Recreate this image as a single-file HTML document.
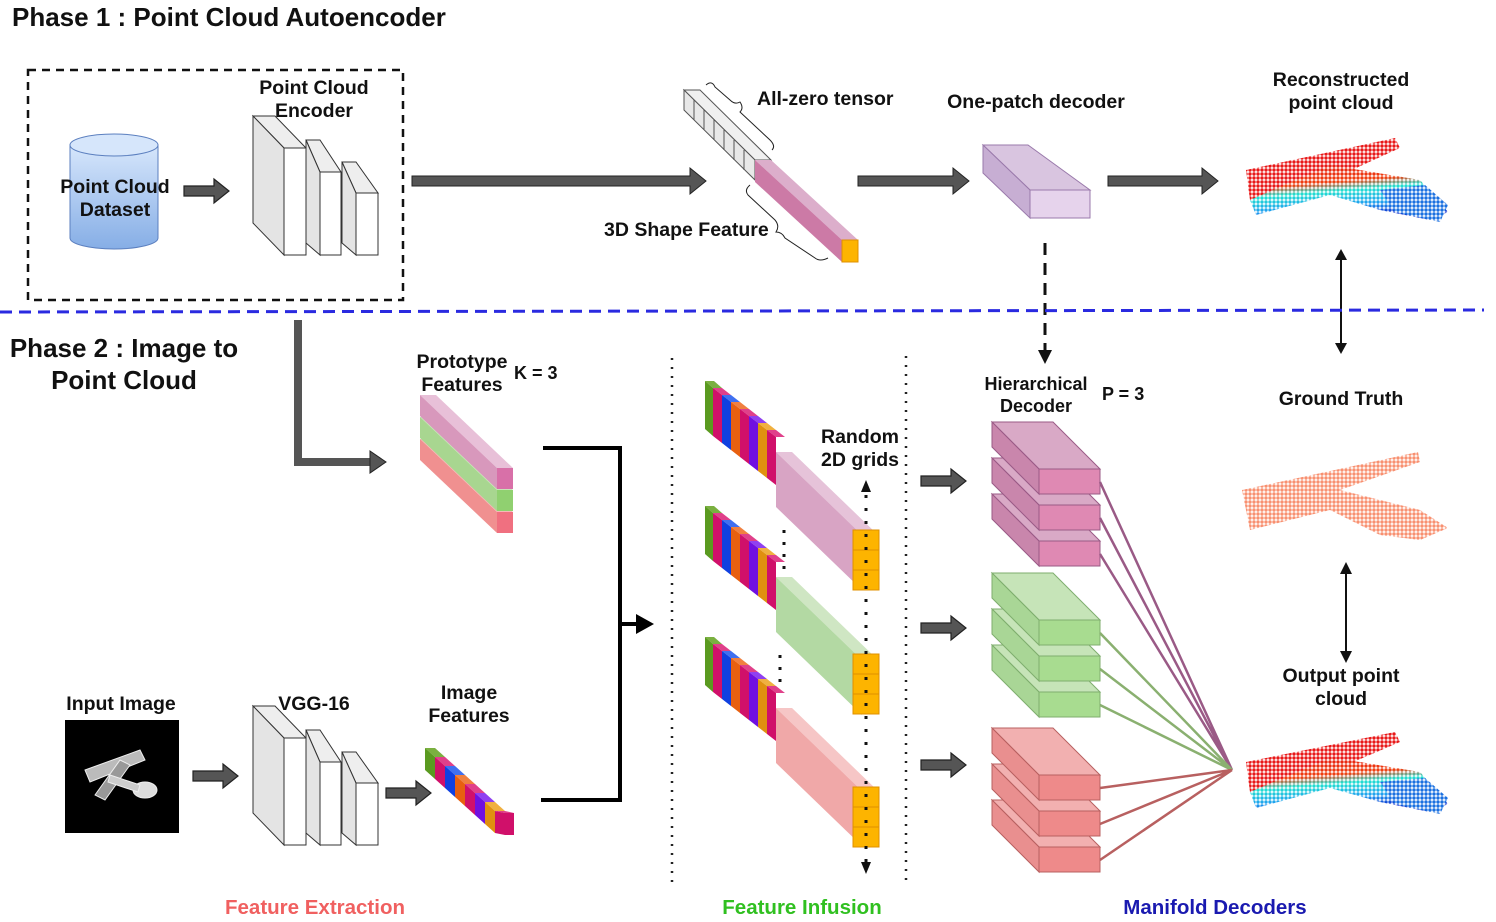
<!DOCTYPE html>
<html><head><meta charset="utf-8"><style>
html,body{margin:0;padding:0;background:#fff}
svg{display:block}
text{font-family:"Liberation Sans",Arial,sans-serif;font-weight:bold;fill:#111}
</style></head><body>
<svg width="1496" height="922" viewBox="0 0 1496 922" xmlns="http://www.w3.org/2000/svg">
<defs>
<linearGradient id="cyl" x1="0" y1="0" x2="0" y2="1"><stop offset="0" stop-color="#d6e6fb"/><stop offset="1" stop-color="#86aee6"/></linearGradient>
<linearGradient id="jet" x1="0" y1="0" x2="0.3" y2="1"><stop offset="0" stop-color="#e01010"/><stop offset="0.4" stop-color="#f04010"/><stop offset="0.55" stop-color="#20e0d0"/><stop offset="0.8" stop-color="#20a0f0"/><stop offset="1" stop-color="#1030d0"/></linearGradient>
<pattern id="dots" width="4" height="4" patternUnits="userSpaceOnUse"><circle cx="2" cy="2" r="1.7" fill="#fff"/></pattern>
<mask id="dm"><rect width="1496" height="922" fill="url(#dots)"/></mask>
<g id="arr"><polygon points="0,-5 30,-5 30,-12 45,0 30,12 30,5 0,5" fill="#555" stroke="#222" stroke-width="1.2"/></g>
<g id="pbox">
<polygon points="0,0 61,0 108,47 47,47" fill="#d9a9c6" stroke="#9a5a86"/>
<polygon points="0,0 47,47 47,72 0,25" fill="#c986ac" stroke="#9a5a86"/>
<rect x="47" y="47" width="61" height="25" fill="#df89b3" stroke="#9a5a86"/>
</g>
<g id="gbox">
<polygon points="0,0 61,0 108,47 47,47" fill="#c6e4b8" stroke="#7fae6e"/>
<polygon points="0,0 47,47 47,72 0,25" fill="#a9d696" stroke="#7fae6e"/>
<rect x="47" y="47" width="61" height="25" fill="#a8dc90" stroke="#7fae6e"/>
</g>
<g id="rbox">
<polygon points="0,0 61,0 108,47 47,47" fill="#f2b0b0" stroke="#b86060"/>
<polygon points="0,0 47,47 47,72 0,25" fill="#e98f8f" stroke="#b86060"/>
<rect x="47" y="47" width="61" height="25" fill="#ee8a8a" stroke="#b86060"/>
</g>
<g id="cnn">
<polygon points="253,116 275,116 306,148 284,148" fill="#eee" stroke="#333"/>
<polygon points="253,116 284,148 284,255 253,223" fill="#e4e4e4" stroke="#333"/>
<rect x="284" y="148" width="22" height="107" fill="#fff" stroke="#333"/>
<polygon points="306,140 320,140 341,172 320,172" fill="#eee" stroke="#333"/>
<polygon points="306,140 320,172 320,255 306,243" fill="#e4e4e4" stroke="#333"/>
<rect x="320" y="172" width="21" height="83" fill="#fff" stroke="#333"/>
<polygon points="342,162 356,162 378,193 356,193" fill="#eee" stroke="#333"/>
<polygon points="342,162 356,193 356,255 342,243" fill="#e4e4e4" stroke="#333"/>
<rect x="356" y="193" width="22" height="62" fill="#fff" stroke="#333"/>
</g>
<g id="cubes">
<polygon points="0,0 9,0 17,7 8,7" fill="#7ab040"/><polygon points="0,0 8,7 8,55 0,48" fill="#5a9a20"/>
<polygon points="8,7 17,7 26,14 17,14" fill="#e0408a"/><polygon points="8,7 17,14 17,62 8,55" fill="#d0106a"/>
<polygon points="17,14 26,14 35,21 26,21" fill="#4070f0"/><polygon points="17,14 26,21 26,69 17,62" fill="#1040e0"/>
<polygon points="26,21 35,21 44,28 35,28" fill="#f08040"/><polygon points="26,21 35,28 35,76 26,69" fill="#e86010"/>
<polygon points="35,28 44,28 53,35 44,35" fill="#e0408a"/><polygon points="35,28 44,35 44,83 35,76" fill="#d0106a"/>
<polygon points="44,35 53,35 62,42 53,42" fill="#9040f0"/><polygon points="44,35 53,42 53,90 44,83" fill="#7010e0"/>
<polygon points="53,42 62,42 71,49 62,49" fill="#f0b040"/><polygon points="53,42 62,49 62,97 53,90" fill="#e09010"/>
<polygon points="62,49 71,49 80,56 71,56" fill="#e0408a"/><polygon points="62,49 71,56 71,104 62,97" fill="#d0106a"/>
</g>
<g id="ostack">
<rect x="0" y="0" width="26" height="20" fill="#fdb400" stroke="#e09000"/>
<rect x="0" y="20" width="26" height="20" fill="#fdb400" stroke="#e09000"/>
<rect x="0" y="40" width="26" height="20" fill="#fdb400" stroke="#e09000"/>
</g>
</defs>

<text x="12" y="26" font-size="26">Phase 1 : Point Cloud Autoencoder</text>
<rect x="28" y="70" width="375" height="230" fill="none" stroke="#111" stroke-width="2.5" stroke-dasharray="8,6"/>
<path d="M70,145 L70,238 A44,11 0 0 0 158,238 L158,145" fill="url(#cyl)" stroke="#5b7fbf"/>
<ellipse cx="114" cy="145" rx="44" ry="11" fill="#d6e6fb" stroke="#5b7fbf"/>
<text x="115" y="193" font-size="19.5" text-anchor="middle">Point Cloud</text>
<text x="115" y="216" font-size="19.5" text-anchor="middle">Dataset</text>
<use href="#arr" x="184" y="191"/>
<text x="314" y="94" font-size="19.5" text-anchor="middle">Point Cloud</text>
<text x="314" y="117" font-size="19.5" text-anchor="middle">Encoder</text>
<use href="#cnn"/>
<polygon points="412,176 690,176 690,168 706,181 690,194 690,186 412,186" fill="#555" stroke="#222"/>

<g stroke="#555" fill="#fff">
<polygon points="684,90 700,90 771,160 755,160" fill="#f0f0f0"/>
<polygon points="684,90 755,160 755,180 684,110" fill="#e8e8e8"/>
<line x1="694" y1="100" x2="694" y2="120"/><line x1="704" y1="110" x2="704" y2="130"/><line x1="714" y1="120" x2="714" y2="140"/><line x1="724" y1="130" x2="724" y2="150"/><line x1="734" y1="140" x2="734" y2="160"/><line x1="744" y1="150" x2="744" y2="170"/>
</g>
<polygon points="755,160 771,160 858,240 842,240" fill="#dcaecb"/>
<polygon points="755,160 842,240 842,262 755,182" fill="#cc7aa6"/>
<rect x="842" y="240" width="16" height="22" fill="#fdb400" stroke="#e09000"/>
<path d="M706,85 Q712,80 715,87 L730,100 Q735,105 740,102 Q744,108 740,112 L770,140 Q776,146 772,150" fill="none" stroke="#222"/>
<path d="M750,185 Q744,190 748,195 L775,220 Q780,226 776,232 Q782,232 785,238 L815,258 Q820,262 828,258" fill="none" stroke="#222"/>
<text x="757" y="105" font-size="19.5">All-zero tensor</text>
<text x="604" y="236" font-size="19.5">3D Shape Feature</text>
<polygon points="858,176 953,176 953,168 969,181 953,194 953,186 858,186" fill="#555" stroke="#222"/>
<text x="1036" y="108" font-size="19.5" text-anchor="middle">One-patch decoder</text>
<polygon points="983,145 1028,145 1090,190 1030,190" fill="#d9c5e0" stroke="#9a7aab"/>
<polygon points="983,145 1030,190 1030,218 983,173" fill="#c7aed3" stroke="#9a7aab"/>
<rect x="1030" y="190" width="60" height="28" fill="#e6d3ec" stroke="#9a7aab"/>
<polygon points="1108,176 1202,176 1202,168 1218,181 1202,194 1202,186 1108,186" fill="#555" stroke="#222"/>
<text x="1341" y="86" font-size="19.5" text-anchor="middle">Reconstructed</text>
<text x="1341" y="109" font-size="19.5" text-anchor="middle">point cloud</text>
<g mask="url(#dm)">
<polygon points="1246,170 1395,138 1400,148 1330,180 1250,200" fill="#e81818"/>
<polygon points="1250,200 1330,165 1360,170 1420,180 1448,212 1430,220 1380,210 1330,195 1256,215" fill="url(#jet)"/>
<polygon points="1380,190 1425,185 1448,205 1440,222 1395,212" fill="#1a70e0"/>
</g>
<line x1="1045" y1="243" x2="1045" y2="350" stroke="#111" stroke-width="3" stroke-dasharray="12,8"/>
<polygon points="1038,350 1052,350 1045,364" fill="#111"/>
<line x1="1341" y1="255" x2="1341" y2="348" stroke="#111" stroke-width="2"/>
<polygon points="1335,260 1347,260 1341,249" fill="#111"/><polygon points="1335,343 1347,343 1341,354" fill="#111"/>

<line x1="0" y1="312" x2="1484" y2="310" stroke="#2a2ae0" stroke-width="3" stroke-dasharray="12,7"/>

<text x="124" y="357" font-size="26" text-anchor="middle">Phase 2 : Image to</text>
<text x="124" y="389" font-size="26" text-anchor="middle">Point Cloud</text>
<polyline points="298,320 298,462 372,462" fill="none" stroke="#555" stroke-width="8"/>
<polygon points="370,451 386,462 370,473" fill="#555" stroke="#222"/>

<text x="462" y="368" font-size="19.5" text-anchor="middle">Prototype</text>
<text x="462" y="391" font-size="19.5" text-anchor="middle">Features</text>
<text x="514" y="379" font-size="18">K = 3</text>
<g>
<polygon points="420,439 436,439 513,512 497,512" fill="#f6b8b8"/><polygon points="420,439 497,512 497,533 420,460" fill="#f09090"/><rect x="497" y="512" width="16" height="21" fill="#f07080"/>
<polygon points="420,417 436,417 513,490 497,490" fill="#c8e4b8"/><polygon points="420,417 497,490 497,511 420,438" fill="#a8d690"/><rect x="497" y="490" width="16" height="21" fill="#90d070"/>
<polygon points="420,395 436,395 513,468 497,468" fill="#e8c0d8"/><polygon points="420,395 497,468 497,489 420,416" fill="#d898bc"/><rect x="497" y="468" width="16" height="21" fill="#d870a8"/>
</g>

<text x="121" y="710" font-size="19.5" text-anchor="middle">Input Image</text>
<rect x="65" y="720" width="114" height="113" fill="#000"/>
<g fill="#bbb" stroke="#eee" stroke-width="1">
<polygon points="85,770 140,750 145,760 90,782"/>
<polygon points="95,795 120,760 130,765 105,800" fill="#999"/>
<ellipse cx="145" cy="790" rx="12" ry="8" fill="#ddd"/>
<polygon points="110,775 140,785 138,792 108,782" fill="#ccc"/>
</g>
<use href="#arr" x="193" y="776"/>
<text x="314" y="710" font-size="19.5" text-anchor="middle">VGG-16</text>
<use href="#cnn" y="590"/>
<use href="#arr" x="386" y="793"/>
<text x="469" y="699" font-size="19.5" text-anchor="middle">Image</text>
<text x="469" y="722" font-size="19.5" text-anchor="middle">Features</text>
<g>
<polygon points="425,748 435,748 445,757 435,757" fill="#7ab040"/><polygon points="425,748 435,757 435,779 425,770" fill="#5a9a20"/>
<polygon points="435,757 445,757 455,766 445,766" fill="#e0408a"/><polygon points="435,757 445,766 445,788 435,779" fill="#d0106a"/>
<polygon points="445,766 455,766 465,775 455,775" fill="#4070f0"/><polygon points="445,766 455,775 455,797 445,788" fill="#1040e0"/>
<polygon points="455,775 465,775 475,784 465,784" fill="#f08040"/><polygon points="455,775 465,784 465,806 455,797" fill="#e86010"/>
<polygon points="465,784 475,784 485,793 475,793" fill="#e0408a"/><polygon points="465,784 475,793 475,815 465,806" fill="#d0106a"/>
<polygon points="475,793 485,793 495,802 485,802" fill="#9040f0"/><polygon points="475,793 485,802 485,824 475,815" fill="#7010e0"/>
<polygon points="485,802 495,802 505,811 495,811" fill="#f0b040"/><polygon points="485,802 495,811 495,833 485,824" fill="#e09010"/>
<polygon points="495,811 505,811 514,813 505,813" fill="#e0408a"/><polygon points="495,811 505,813 505,835 495,833" fill="#d0106a"/>
<rect x="505" y="813" width="9" height="22" fill="#d0106a"/>
</g>

<polyline points="543,448 620,448 620,800 541,800" fill="none" stroke="#000" stroke-width="4"/>
<line x1="620" y1="624" x2="640" y2="624" stroke="#000" stroke-width="4"/>
<polygon points="636,614 654,624 636,634" fill="#000"/>

<line x1="672" y1="358" x2="672" y2="885" stroke="#222" stroke-width="2.5" stroke-dasharray="2,7"/>
<line x1="906" y1="356" x2="906" y2="885" stroke="#222" stroke-width="2.5" stroke-dasharray="2,7"/>

<g>
<polygon points="776,452 792,452 878,535 862,535" fill="#e6c3d9"/><polygon points="776,452 862,535 862,590 776,507" fill="#d8a4c4"/>
<use href="#cubes" x="705" y="381"/><use href="#ostack" x="853" y="530"/>
<polygon points="776,577 792,577 878,660 862,660" fill="#cfe6c3"/><polygon points="776,577 862,660 862,715 776,632" fill="#b3d9a3"/>
<use href="#cubes" x="705" y="506"/><use href="#ostack" x="853" y="654"/>
<polygon points="776,708 792,708 878,791 862,791" fill="#f6c6c6"/><polygon points="776,708 862,791 862,846 776,763" fill="#f0a8a8"/>
<use href="#cubes" x="705" y="637"/><use href="#ostack" x="853" y="787"/>
</g>
<line x1="866" y1="495" x2="866" y2="862" stroke="#111" stroke-width="3" stroke-dasharray="3,10"/>
<polygon points="861,492 871,492 866,480" fill="#111"/><polygon points="861,862 871,862 866,874" fill="#111"/>
<line x1="784" y1="530" x2="784" y2="570" stroke="#111" stroke-width="3" stroke-dasharray="3,9"/>
<line x1="780" y1="655" x2="780" y2="690" stroke="#111" stroke-width="3" stroke-dasharray="3,9"/>
<text x="860" y="443" font-size="19.5" text-anchor="middle">Random</text>
<text x="860" y="466" font-size="19.5" text-anchor="middle">2D grids</text>

<use href="#arr" x="921" y="481"/><use href="#arr" x="921" y="628"/><use href="#arr" x="921" y="765"/>

<text x="1036" y="390" font-size="18" text-anchor="middle">Hierarchical</text>
<text x="1036" y="412" font-size="18" text-anchor="middle">Decoder</text>
<text x="1102" y="400" font-size="18">P = 3</text>
<use href="#pbox" x="992" y="494"/><use href="#pbox" x="992" y="458"/><use href="#pbox" x="992" y="422"/>
<use href="#gbox" x="992" y="645"/><use href="#gbox" x="992" y="609"/><use href="#gbox" x="992" y="573"/>
<use href="#rbox" x="992" y="800"/><use href="#rbox" x="992" y="764"/><use href="#rbox" x="992" y="728"/>
<g stroke-width="2.5" fill="none">
<path d="M1100,482 L1232,770 M1100,518 L1232,770 M1100,554 L1232,770" stroke="#9a5a86"/>
<path d="M1100,633 L1232,770 M1100,669 L1232,770 M1100,705 L1232,770" stroke="#8ab070"/>
<path d="M1100,788 L1232,770 M1100,824 L1232,770 M1100,860 L1232,770" stroke="#b86060"/>
</g>

<text x="1341" y="405" font-size="19.5" text-anchor="middle">Ground Truth</text>
<g mask="url(#dm)">
<polygon points="1242,490 1418,452 1420,462 1340,490 1420,510 1448,528 1420,540 1380,535 1330,510 1250,530" fill="#f89070"/>
</g>
<line x1="1346" y1="570" x2="1346" y2="655" stroke="#111" stroke-width="2"/>
<polygon points="1340,574 1352,574 1346,562" fill="#111"/><polygon points="1340,651 1352,651 1346,663" fill="#111"/>
<text x="1341" y="682" font-size="19.5" text-anchor="middle">Output point</text>
<text x="1341" y="705" font-size="19.5" text-anchor="middle">cloud</text>
<g mask="url(#dm)">
<polygon points="1246,762 1395,732 1400,742 1330,772 1250,792" fill="#e81818"/>
<polygon points="1250,792 1330,758 1360,762 1420,772 1448,804 1430,812 1380,802 1330,788 1256,808" fill="url(#jet)"/>
<polygon points="1380,782 1425,778 1448,798 1440,814 1395,804" fill="#1a70e0"/>
</g>

<text x="315" y="914" font-size="20.5" text-anchor="middle" style="fill:#f06060">Feature Extraction</text>
<text x="802" y="914" font-size="20.5" text-anchor="middle" style="fill:#30c020">Feature Infusion</text>
<text x="1215" y="914" font-size="20.5" text-anchor="middle" style="fill:#1a1ab0">Manifold Decoders</text>
</svg>
</body></html>
